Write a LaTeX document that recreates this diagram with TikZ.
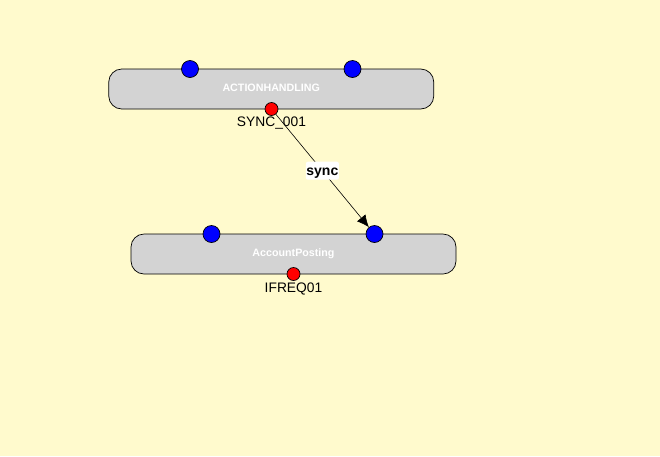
\documentclass[tikz,border=0pt]{standalone}
\usepackage{fontspec}
\setmainfont{Liberation Sans}
\usepackage{xcolor}
\usetikzlibrary{arrows.meta}
\definecolor{paneyellow}{HTML}{FFFACD}
\definecolor{boxgray}{HTML}{D3D3D3}
\tikzset{
  component/.style={rectangle, draw, fill=boxgray, rounded corners=13pt, line width=0.7pt, minimum width=325pt, minimum height=40pt, text=white, font=\fontsize{10.7}{11}\selectfont\bfseries, text height=8pt, text depth=4pt},
  provided/.style={circle, draw, fill=blue, inner sep=0pt, minimum size=17pt, line width=0.7pt},
  required/.style={circle, draw, fill=red, inner sep=0pt, minimum size=13pt, line width=0.7pt},
  portlabel/.style={font=\fontsize{13.8}{14}\selectfont, inner sep=0pt},
  linklabel/.style={fill=white, rounded corners=2pt, inner sep=0pt, minimum width=33pt, minimum height=18pt, text height=12pt, text depth=3pt, font=\fontsize{14}{14}\selectfont\bfseries}
}

\begin{document}
\begin{tikzpicture}[x=1pt, y=-1pt]
      \fill [paneyellow] (0, 0) rectangle (660, 456);
      \useasboundingbox (0, 0) rectangle (660, 456);
      \node [component] (actionhandling) at (271.25, 89) {ACTIONHANDLING};
      \node [component] (accountposting) at (293.5, 254) {AccountPosting};
      \node [provided] (actionleft) at (190, 69) {};
      \node [provided] (actionright) at (352.5, 69) {};
      \node [provided] (accountleft) at (211.5, 234) {};
      \node [provided] (accountright) at (374.5, 234) {};
      \node [required] (sync) at (271.5, 109) {};
      \node [required] (ifreq) at (293.5, 274) {};
      \node [portlabel] (synclabel) at (271.5, 123) {SYNC\_001};
      \node [portlabel] (ifreqlabel) at (293.5, 288.5) {IFREQ01};
      \draw [-{Latex[length=12pt, width=11pt]}, line width=0.6pt] (sync) -- node [linklabel] (synclink) {sync} (accountright);
    \end{tikzpicture}
\end{document}
